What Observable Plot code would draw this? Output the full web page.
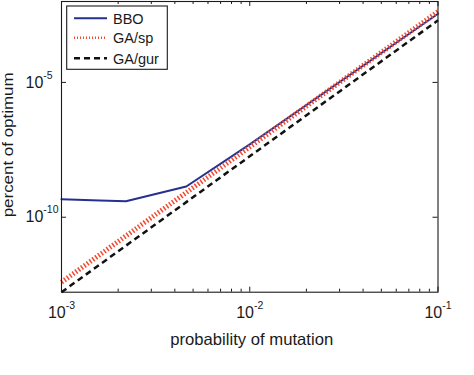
<!DOCTYPE html>
<html><head><meta charset="utf-8">
<script src="https://cdn.jsdelivr.net/npm/d3@7"></script>
<script src="https://cdn.jsdelivr.net/npm/@observablehq/plot@0.6"></script>
<style>body{margin:0;background:#fff;} svg{display:block;}</style>
</head><body><div id="chart"></div>
<script>
// ---- data ----
const seriesNames = ["BBO", "GA/sp", "GA/gur"];
const bboX = [0.001, 0.0016, 0.0022, 0.0046, 0.01, 0.1];
const bboY = [4.6e-10, 4.2e-10, 3.9e-10, 1.38e-9, 5.0e-8, 3.5e-3];
const spX = [0.001, 0.1];
const spY = [3.9e-13, 4.2e-3];
const gurX = [0.001, 0.1];
const gurY = [1.66e-13, 2.0e-3];
const xMajorTicks = [1e-3, 1e-2, 1e-1];
const xMinorTicks = [2e-3, 3e-3, 4e-3, 5e-3, 6e-3, 7e-3, 8e-3, 9e-3, 2e-2, 3e-2, 4e-2, 5e-2, 6e-2, 7e-2, 8e-2, 9e-2];
const yMajorTicks = [1e-10, 1e-5];
const xDomain = [1e-3, 1e-1];
const yDomain = [1.66e-13, 1e-2];
const xLabel = "probability of mutation";
const yLabel = "percent of optimum";

// ---- layout ----
const W = 474, H = 375, mL = 61, mR = 36.5, mT = 1, mB = 83.3;
const iw = W - mL - mR, ih = H - mT - mB;
const font = '"Liberation Sans", Arial, Helvetica, sans-serif';
const colors = ["#25318c", "#ef4a2f", "#111111"];

const toRows = (xs, ys) => xs.map((x, i) => ({x, y: ys[i]}));
const bbo = toRows(bboX, bboY), sp = toRows(spX, spY), gur = toRows(gurX, gurY);
const expLabel = d => "10^-" + Math.round(-Math.log10(d));

const plot = Plot.plot({
  width: W, height: H,
  marginLeft: mL, marginRight: mR, marginTop: mT, marginBottom: mB,
  style: {fontFamily: font, fontSize: "16px", background: "#fff", color: "#1a1a1a", overflow: "visible"},
  x: {type: "log", domain: xDomain},
  y: {type: "log", domain: yDomain},
  marks: [
    Plot.line(bbo, {x: "x", y: "y", stroke: colors[0], strokeWidth: 2}),
    Plot.line(sp, {x: "x", y: "y", stroke: colors[1], strokeWidth: 5, strokeDasharray: "1.5,2", strokeLinecap: "butt"}),
    Plot.line(gur, {x: "x", y: "y", stroke: colors[2], strokeWidth: 2.5, strokeDasharray: "6,4", strokeLinecap: "butt"}),
    Plot.tickX(xMajorTicks, {x: d => d, insetTop: ih - 5, stroke: "#1a1a1a"}),
    Plot.tickX(xMajorTicks, {x: d => d, insetBottom: ih - 5, stroke: "#1a1a1a"}),
    Plot.tickX(xMinorTicks, {x: d => d, insetTop: ih - 3, stroke: "#1a1a1a"}),
    Plot.tickX(xMinorTicks, {x: d => d, insetBottom: ih - 3, stroke: "#1a1a1a"}),
    Plot.tickY(yMajorTicks, {y: d => d, insetRight: iw - 5, stroke: "#1a1a1a"}),
    Plot.tickY(yMajorTicks, {y: d => d, insetLeft: iw - 5, stroke: "#1a1a1a"}),
    Plot.axisX(xMajorTicks, {tickSize: 0, tickPadding: 14, label: null, tickFormat: expLabel, fontSize: 16}),
    Plot.axisY(yMajorTicks, {tickSize: 0, tickPadding: 36, label: null, textAnchor: "start", tickFormat: expLabel, fontSize: 16}),
    Plot.frame({stroke: "#1a1a1a", strokeWidth: 1.1})
  ]
});

const svg = d3.select(plot);
// superscripts for tick labels
svg.selectAll("g[aria-label='x-axis tick label'] text, g[aria-label='y-axis tick label'] text").each(function () {
  const t = this.textContent;
  const [b, e] = t.split("^");
  const s = d3.select(this);
  s.text(null);
  s.append("tspan").text(b);
  s.append("tspan").attr("dy", "-9").attr("font-size", "10.5px").text(e);
});

// axis titles
svg.append("text").attr("x", mL + iw / 2 + 2.5).attr("y", 345)
  .attr("text-anchor", "middle").attr("font-size", "16.5px").attr("fill", "#1a1a1a")
  .attr("font-family", font).attr("textLength", 163).attr("lengthAdjust", "spacingAndGlyphs").text(xLabel);
svg.append("text").attr("transform", `translate(12.5,${mT + ih / 2 - 1.5}) rotate(-90)`)
  .attr("text-anchor", "middle").attr("font-size", "15px").attr("fill", "#1a1a1a")
  .attr("font-family", font).attr("textLength", 145).attr("lengthAdjust", "spacingAndGlyphs").text(yLabel);

// legend
const lg = svg.append("g").attr("font-family", font).attr("font-size", "14.5px").attr("text-anchor", "start");
lg.append("rect").attr("x", 66.7).attr("y", 6).attr("width", 100.6).attr("height", 63.3)
  .attr("fill", "#fff").attr("stroke", "#1a1a1a").attr("stroke-width", 1.1);
const legendW = [2, 2.6, 2.5];
const legendDash = [null, "1,2", "6,4"];
const rowsY = [18.3, 37.7, 58.3];
seriesNames.forEach((name, i) => {
  const l = lg.append("line").attr("x1", 74).attr("x2", 107).attr("y1", rowsY[i]).attr("y2", rowsY[i])
    .attr("stroke", colors[i]).attr("stroke-width", legendW[i]).attr("stroke-linecap", "butt");
  if (legendDash[i]) l.attr("stroke-dasharray", legendDash[i]);
  lg.append("text").attr("x", 113).attr("y", rowsY[i] + 5.2).attr("fill", "#1a1a1a").attr("text-anchor", "start").text(name);
});

document.getElementById("chart").appendChild(plot);
</script>
</body></html>
